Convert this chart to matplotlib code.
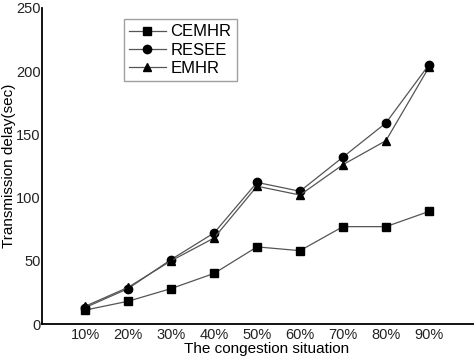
import matplotlib.pyplot as plt

plt.rcParams['font.family'] = ['Liberation Sans', 'DejaVu Sans']

# data
situations = ['10%', '20%', '30%', '40%', '50%', '60%', '70%', '80%', '90%']
cemhr = [11, 18, 28, 40, 61, 58, 77, 77, 89]
resee = [13, 28, 51, 72, 112, 105, 132, 159, 205]
emhr = [14, 29, 50, 68, 109, 102, 126, 145, 203]

fig = plt.figure(figsize=(4.74, 3.6), dpi=100)
ax = fig.add_axes([0.089, 0.1, 0.911, 0.878])

x = list(range(1, len(situations) + 1))
line_kw = dict(color='#555555', linewidth=0.9, markerfacecolor='black',
               markeredgecolor='black')
ax.plot(x, cemhr, marker='s', markersize=6, label='CEMHR', **line_kw)
ax.plot(x, resee, marker='o', markersize=6, label='RESEE', **line_kw)
ax.plot(x, emhr, marker='^', markersize=6, label='EMHR', **line_kw)

ax.set_xlim(0, 10.05)
ax.set_ylim(0, 250)
ax.set_xticks(x)
ax.set_xticklabels(situations)
ax.set_yticks([0, 50, 100, 150, 200, 250])
ax.tick_params(length=0, labelsize=10.5, colors='#222222')
ax.tick_params(axis='y', pad=1)
ax.tick_params(axis='x', pad=3)

for side in ['top', 'right']:
    ax.spines[side].set_visible(False)
for side in ['left', 'bottom']:
    ax.spines[side].set_linewidth(1.3)

ax.set_xlabel('The congestion situation', fontsize=11)
ax.set_ylabel('Transmission delay(sec)', fontsize=11)
ax.xaxis.set_label_coords(0.52, -0.056)
ax.yaxis.set_label_coords(-0.06, 0.5)

leg = ax.legend(loc='upper left', bbox_to_anchor=(0.17, 0.99), fontsize=12,
                frameon=True, fancybox=False, handlelength=2.2,
                borderpad=0.3, labelspacing=0.2, handletextpad=0.3)
leg.get_frame().set_edgecolor('#888888')
leg.get_frame().set_linewidth(1.0)

fig.savefig('out.png', dpi=100)
